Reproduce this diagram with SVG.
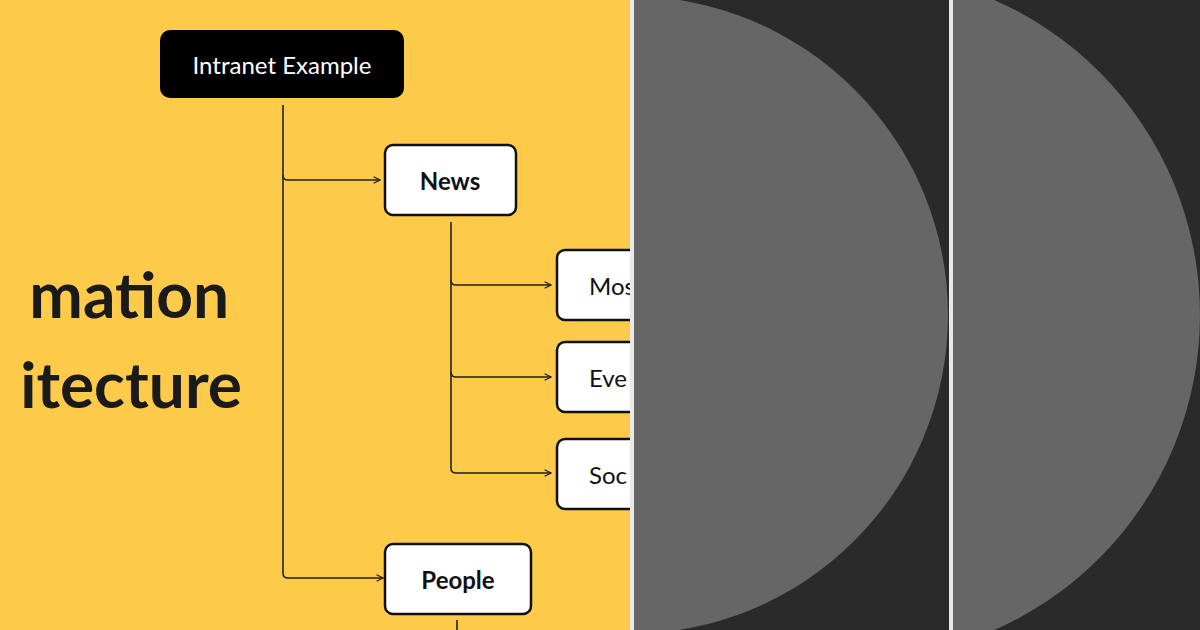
<svg xmlns="http://www.w3.org/2000/svg" width="1200" height="630" viewBox="0 0 1200 630">
<style>
.n{fill:#fff;stroke:#111;stroke-width:2.5}
.t{font-family:Lato,"Liberation Sans",sans-serif;font-size:24px;fill:#111;dominant-baseline:central}
.b{font-weight:bold;text-anchor:middle}
.c{fill:none;stroke:#222;stroke-width:1.6}
.h{font-family:Lato,"Liberation Sans",sans-serif;font-size:64px;font-weight:bold;fill:#1a1a1a;text-anchor:end}
</style>
<defs>
<marker id="a" viewBox="0 0 10 10" refX="9" refY="5" markerWidth="8" markerHeight="8" markerUnits="userSpaceOnUse" orient="auto"><path d="M1 1L9 5L1 9" fill="none" stroke="#222" stroke-width="1.6"/></marker>
<clipPath id="p1"><rect x="0" y="0" width="630" height="630"/></clipPath>
<clipPath id="p2"><rect x="634" y="0" width="315" height="630"/></clipPath>
<clipPath id="p3"><rect x="953" y="0" width="247" height="630"/></clipPath>
</defs>
<rect width="1200" height="630" fill="#2a2a2a"/>
<rect x="0" y="0" width="630" height="630" fill="#fdca4a"/>
<rect x="630" y="0" width="4" height="630" fill="#e8e8e8"/>
<rect x="949" y="0" width="4" height="630" fill="#e8e8e8"/>
<circle cx="629" cy="315" r="319" fill="#666" clip-path="url(#p2)"/>
<circle cx="856" cy="315" r="344" fill="#666" clip-path="url(#p3)"/>
<g clip-path="url(#p1)">
<text class="h" x="229" y="318">mation</text>
<text class="h" x="242" y="408">itecture</text>
<g id="connectors">
<path class="c" d="M283 105V573q0 5 5 5H383" marker-end="url(#a)"/>
<path class="c" d="M283 175q0 5 5 5H380" marker-end="url(#a)"/>
<path class="c" d="M451 222V468q0 5 5 5H551" marker-end="url(#a)"/>
<path class="c" d="M451 280q0 5 5 5H551" marker-end="url(#a)"/>
<path class="c" d="M451 372q0 5 5 5H551" marker-end="url(#a)"/>
<path class="c" d="M457 620V630"/>
</g>
<g id="root"><rect x="160" y="30" width="244" height="68" rx="10" fill="#000"/><text class="t" x="282" y="64" text-anchor="middle" fill="#fff" style="fill:#fff">Intranet Example</text></g>
<g id="news"><rect class="n" x="385" y="145" width="131" height="70" rx="8"/><text class="t b" x="450" y="180">News</text></g>
<g id="mos"><rect class="n" x="557" y="250" width="120" height="70" rx="8"/><text class="t" x="589" y="285">Mos</text></g>
<g id="eve"><rect class="n" x="557" y="342" width="120" height="70" rx="8"/><text class="t" x="589" y="377">Eve</text></g>
<g id="soc"><rect class="n" x="557" y="439" width="120" height="70" rx="8"/><text class="t" x="589" y="474">Soc</text></g>
<g id="people"><rect class="n" x="385" y="544" width="146" height="70" rx="8"/><text class="t b" x="458" y="579">People</text></g>
</g>
</svg>
